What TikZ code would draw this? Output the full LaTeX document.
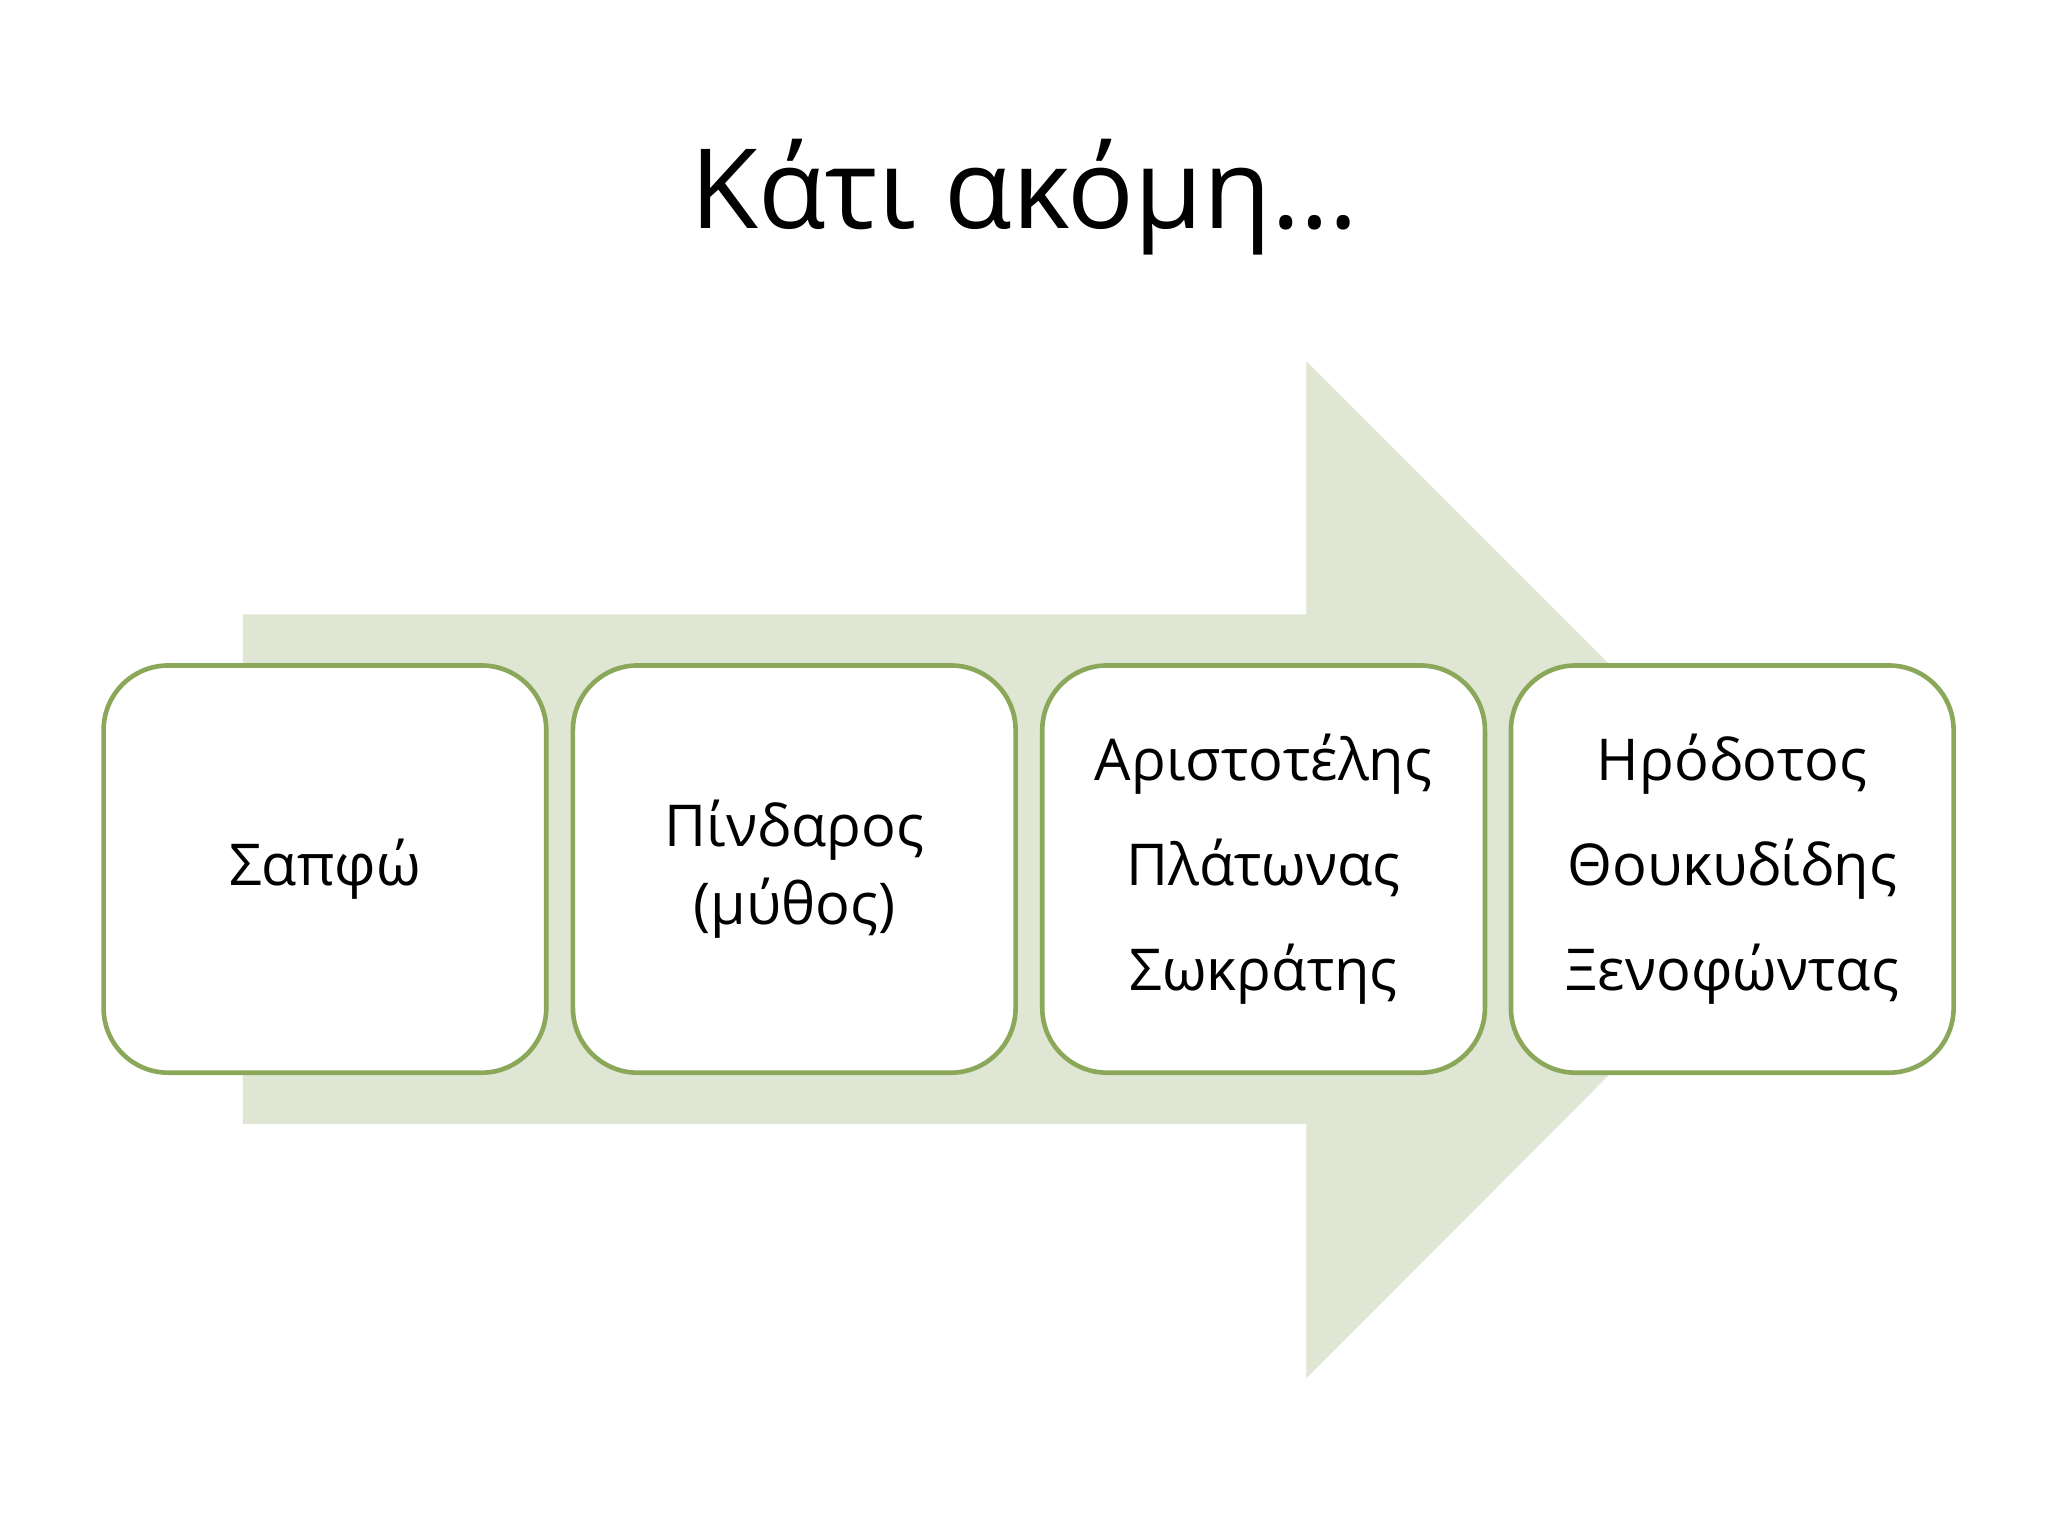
\documentclass[tikz,border=0pt]{standalone}
\usepackage{fontspec}
\setmainfont{Open Sans}
\definecolor{arrowgreen}{HTML}{DFE6D3}
\definecolor{boxgreen}{HTML}{8BA85A}
\tikzset{
  namebox/.style={draw=boxgreen,line width=1pt,fill=white,rounded corners=14pt,
    minimum width=3.37cm,minimum height=3.1cm,align=center,
    font=\fontsize{12.5}{22.8}\selectfont,inner sep=0pt},
}
\begin{document}
\begin{tikzpicture}[x=0.01cm,y=-0.01cm]
  \useasboundingbox (0,0) rectangle (1560,1170);
  \fill[white] (0,0) rectangle (1560,1170);

  \node (title) at (780,150) {\fontsize{24}{28}\selectfont Κάτι ακόμη…};

  \fill[arrowgreen] (185,468) -- (995,468) -- (995,275) -- (1382,662)
    -- (995,1050) -- (995,856) -- (185,856) -- cycle;

  \node[namebox] (sappho) at (247.5,662) {Σαπφώ};
  \node[namebox] (pindar) at (605,662) {Πίνδαρος\\[-6pt](μύθος)};
  \node[namebox] (philo)  at (962.5,662) {Αριστοτέλης\\Πλάτωνας\\Σωκράτης};
  \node[namebox] (hist)   at (1319.5,662) {Ηρόδοτος\\Θουκυδίδης\\Ξενοφώντας};
\end{tikzpicture}
\end{document}
